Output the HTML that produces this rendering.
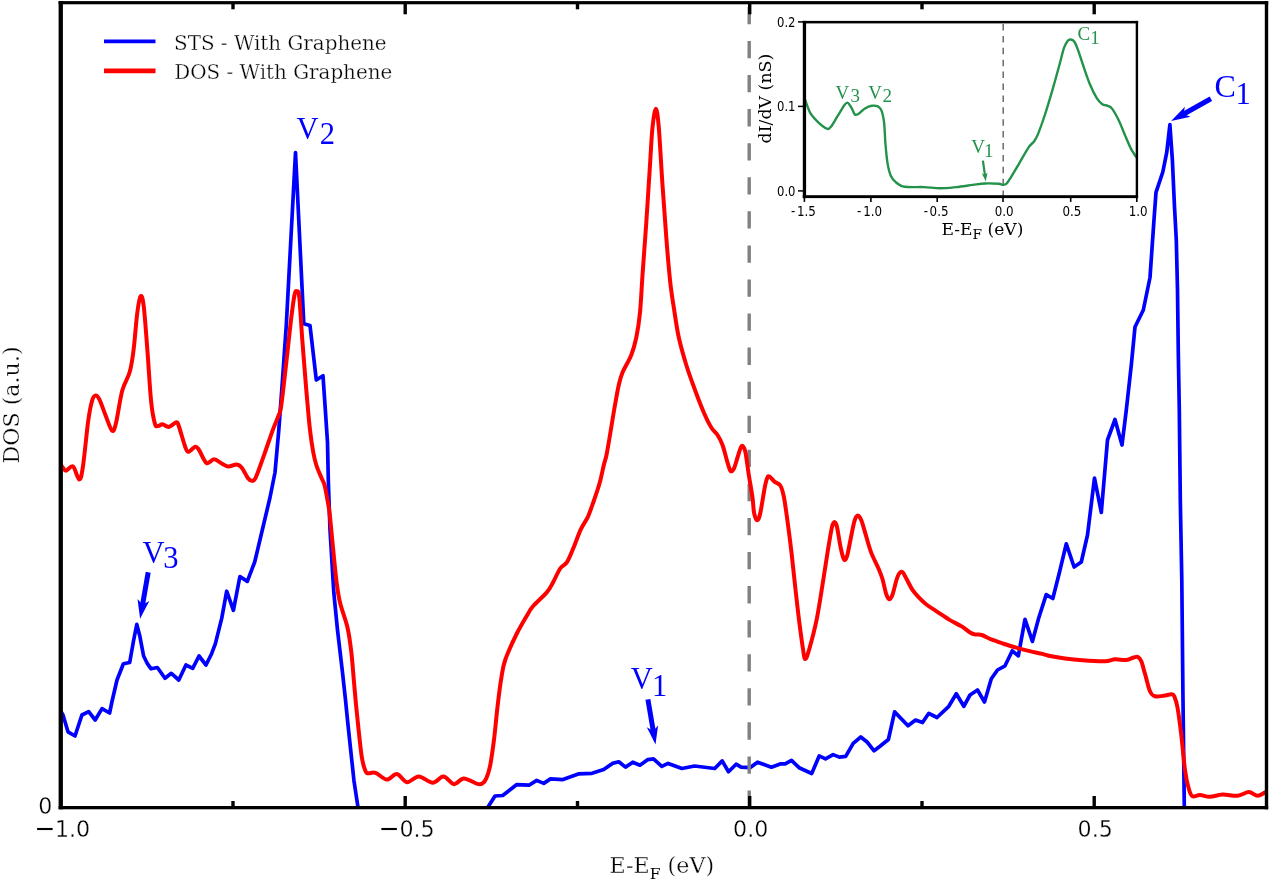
<!DOCTYPE html>
<html lang="en"><head><meta charset="utf-8"><title>DOS vs STS - With Graphene</title>
<style>
html,body{margin:0;padding:0;background:#fff;}
body{width:1270px;height:880px;overflow:hidden;}
svg{display:block;}
.ser{font-family:"DejaVu Serif","Liberation Serif",serif;}
.san{font-family:"DejaVu Sans","Liberation Sans",sans-serif;}
.tex{font-family:"Liberation Serif","DejaVu Serif",serif;}
.cnd{font-family:"DejaVu Sans Condensed","DejaVu Sans","Liberation Sans",sans-serif;}
.thin{stroke:#fff;stroke-width:0.3px;}
</style></head><body>
<svg width="1270" height="880" viewBox="0 0 1270 880">
<rect x="0" y="0" width="1270" height="880" fill="#ffffff"/>
<defs><clipPath id="ax"><rect x="60.7" y="2.7" width="1205.8" height="805.0"/></clipPath>
<clipPath id="in"><rect x="804.4" y="22.3" width="332.5" height="174.2"/></clipPath></defs>
<g clip-path="url(#ax)" fill="none" stroke-linejoin="round" stroke-linecap="butt">
<path d="M60.0,710.0 L63.0,715.0 L68.0,731.8 L75.0,736.0 L81.9,715.0 L88.7,711.6 L95.2,720.0 L102.0,708.6 L109.6,713.0 L112.0,701.5 L117.0,680.0 L123.4,663.8 L129.7,662.5 L133.5,641.0 L136.8,624.4 L139.8,636.0 L143.6,656.0 L147.4,663.7 L151.1,668.8 L157.4,667.5 L165.0,678.3 L171.3,673.3 L178.8,680.0 L185.9,665.0 L192.7,668.3 L199.0,656.0 L206.0,665.0 L211.6,653.7 L215.4,643.6 L221.7,618.4 L226.7,591.2 L233.4,610.3 L239.9,576.5 L247.3,581.4 L254.7,562.0 L262.3,530.0 L270.0,497.5 L275.0,472.5 L278.8,430.0 L282.5,380.0 L286.3,325.0 L295.5,152.5 L303.8,323.8 L310.0,325.5 L316.3,380.0 L323.0,375.8 L325.0,405.0 L327.5,442.5 L328.3,480.0 L330.0,530.0 L333.8,592.5 L337.5,630.0 L342.5,672.5 L345.5,700.0 L347.8,723.0 L354.0,781.0 L358.1,808.0 L361.0,830.0" stroke="#0000ff" stroke-width="3.7"/>
<path d="M481.5,826.0 L487.7,807.5 L495.0,796.0 L502.7,795.5 L516.5,784.7 L529.0,785.2 L536.7,780.4 L543.7,783.4 L550.5,778.9 L563.0,779.6 L578.3,773.9 L592.0,773.3 L603.7,769.6 L612.5,763.4 L618.8,761.8 L625.5,767.1 L632.8,762.2 L639.9,765.2 L647.9,759.6 L653.5,758.9 L661.8,766.4 L668.1,763.4 L681.9,768.5 L694.5,766.0 L714.7,768.5 L722.2,760.9 L728.5,771.7 L736.1,764.2 L741.1,767.2 L750.0,767.7 L757.5,762.2 L771.4,767.2 L780.2,763.9 L785.2,763.9 L791.5,760.4 L799.1,767.7 L811.7,773.5 L819.2,755.9 L825.5,758.9 L833.1,754.6 L839.4,757.1 L845.7,756.4 L853.2,743.3 L860.8,737.0 L867.1,742.0 L874.1,750.8 L880.0,746.3 L888.4,739.5 L894.6,711.9 L908.0,725.8 L915.5,720.0 L922.5,722.5 L928.8,713.3 L937.0,717.5 L948.8,706.3 L956.3,693.8 L963.8,706.3 L970.0,695.0 L977.5,690.0 L984.5,702.0 L991.3,678.8 L997.5,670.0 L1005.0,665.8 L1012.3,650.8 L1018.3,655.8 L1025.0,619.4 L1032.4,641.4 L1038.5,618.8 L1046.2,594.6 L1052.8,598.5 L1059.3,573.0 L1066.3,543.8 L1074.1,567.0 L1081.3,562.0 L1087.5,535.0 L1094.5,478.0 L1101.3,512.5 L1107.5,440.0 L1115.0,419.5 L1122.0,445.0 L1126.3,410.0 L1131.3,365.0 L1135.0,327.0 L1143.3,310.0 L1150.0,277.5 L1153.8,222.5 L1156.0,192.3 L1162.8,172.0 L1166.7,152.7 L1169.9,124.7 L1172.4,160.5 L1174.4,205.0 L1176.3,240.0 L1177.5,290.0 L1178.3,352.5 L1179.3,410.0 L1180.3,500.0 L1181.8,580.0 L1183.0,700.0 L1184.3,807.5 L1184.6,830.0" stroke="#0000ff" stroke-width="3.7"/>
<line x1="749.2" x2="749.2" y1="2.7" y2="808" stroke="#808080" stroke-width="3.4" stroke-dasharray="17.3 16.77" stroke-dashoffset="29.87"/>
<path d="M60.0,465.0 C60.3,465.2 61.0,465.4 62.0,466.4 C63.0,467.3 64.2,470.7 66.0,470.7 C67.8,470.7 70.8,464.9 73.0,466.4 C75.2,467.9 77.6,479.6 79.3,479.5 C81.0,479.4 81.5,475.8 83.0,466.0 C84.5,456.2 86.7,431.8 88.2,421.0 C89.7,410.2 90.8,405.3 92.0,401.0 C93.2,396.7 94.5,395.6 95.7,395.4 C97.0,395.2 97.8,396.2 99.5,399.6 C101.2,403.0 103.7,410.8 105.8,416.0 C107.9,421.2 110.3,429.3 112.0,430.6 C113.7,431.9 114.2,430.2 115.9,423.6 C117.6,417.0 119.9,399.4 122.2,390.8 C124.5,382.2 127.8,378.7 129.7,372.0 C131.6,365.3 132.2,360.4 133.5,350.5 C134.8,340.6 136.1,321.7 137.3,312.7 C138.5,303.7 139.4,297.6 140.5,296.4 C141.6,295.1 142.4,296.2 143.6,305.2 C144.8,314.2 146.2,334.5 147.4,350.5 C148.7,366.5 149.8,388.8 151.1,401.0 C152.3,413.2 153.7,419.4 154.9,423.6 C156.1,427.8 156.9,425.9 158.2,426.0 C159.5,426.1 160.7,424.2 162.5,424.3 C164.3,424.4 166.5,427.2 168.8,426.9 C171.1,426.6 174.6,422.4 176.3,422.3 C178.0,422.2 177.4,422.0 178.8,426.0 C180.2,430.0 183.4,441.9 185.0,446.2 C186.6,450.5 186.7,451.7 188.4,451.8 C190.1,451.9 193.4,447.1 195.2,446.8 C197.0,446.5 197.1,447.3 199.0,450.0 C200.9,452.7 204.0,461.4 206.5,463.0 C209.0,464.6 211.5,459.2 214.0,459.3 C216.5,459.4 219.4,462.2 221.7,463.4 C224.0,464.6 225.5,466.2 228.0,466.4 C230.5,466.6 234.5,464.4 236.8,464.6 C239.1,464.8 239.9,465.4 241.8,467.7 C243.7,470.0 246.3,476.0 248.0,478.2 C249.7,480.4 250.6,480.9 251.9,480.8 C253.2,480.7 253.6,482.2 255.7,477.7 C257.8,473.2 261.6,462.0 264.5,453.8 C267.4,445.6 270.9,435.1 273.3,428.6 C275.7,422.1 277.5,418.9 278.8,415.0 C280.1,411.1 280.1,413.8 281.3,405.0 C282.6,396.2 284.6,377.1 286.3,362.5 C288.0,347.9 289.9,328.8 291.3,317.5 C292.7,306.2 293.6,299.4 294.5,295.0 C295.4,290.6 296.0,290.9 296.8,291.3 C297.6,291.7 298.4,289.0 299.3,297.5 C300.2,306.0 301.3,327.1 302.5,342.5 C303.7,357.9 305.1,375.4 306.3,390.0 C307.6,404.6 308.8,419.6 310.0,430.0 C311.2,440.4 312.2,446.7 313.3,452.5 C314.4,458.3 315.0,460.8 316.3,465.0 C317.6,469.2 319.9,474.2 321.3,477.5 C322.7,480.8 323.6,481.7 324.5,485.0 C325.4,488.3 326.2,492.9 327.0,497.5 C327.8,502.1 328.6,505.0 329.5,512.5 C330.4,520.0 331.4,531.2 332.5,542.5 C333.6,553.8 335.1,570.0 336.3,580.0 C337.6,590.0 338.1,594.6 340.0,602.5 C341.9,610.4 345.6,619.2 347.5,627.5 C349.4,635.8 350.2,642.9 351.3,652.0 C352.4,661.1 353.1,672.3 354.0,682.0 C354.9,691.7 355.3,698.1 356.6,710.4 C357.9,722.7 360.1,745.6 361.6,755.7 C363.1,765.8 364.3,767.9 365.4,770.8 C366.5,773.7 366.7,773.0 368.4,773.3 C370.1,773.6 372.4,771.8 375.5,772.8 C378.6,773.8 383.2,779.4 386.8,779.6 C390.4,779.8 393.5,773.5 396.9,773.9 C400.3,774.3 403.4,781.8 407.0,782.2 C410.6,782.6 414.5,776.3 418.8,776.4 C423.1,776.5 428.6,782.7 432.7,782.7 C436.8,782.7 439.9,776.4 443.5,776.6 C447.1,776.9 450.6,783.9 454.0,784.2 C457.4,784.5 459.8,778.5 463.7,778.4 C467.6,778.3 474.4,783.1 477.5,783.9 C480.6,784.7 481.0,784.3 482.5,783.4 C484.0,782.5 485.0,781.3 486.3,778.4 C487.6,775.5 488.8,772.1 490.1,765.8 C491.4,759.5 492.6,750.7 493.9,740.6 C495.2,730.5 496.4,715.8 497.7,705.3 C498.9,694.8 500.1,685.1 501.4,677.6 C502.6,670.1 502.7,667.3 505.2,660.0 C507.7,652.7 512.8,641.7 516.6,634.0 C520.4,626.3 525.3,618.4 528.0,613.8 C530.7,609.2 529.9,609.8 533.0,606.2 C536.1,602.6 543.4,596.4 546.8,592.4 C550.1,588.4 550.9,586.3 553.1,582.3 C555.3,578.3 557.9,571.9 560.2,568.5 C562.5,565.1 564.8,565.6 567.0,562.2 C569.2,558.8 571.0,553.8 573.3,548.3 C575.6,542.8 578.4,534.6 580.8,529.4 C583.2,524.1 585.8,521.4 587.9,516.8 C590.0,512.1 591.6,507.2 593.6,501.5 C595.6,495.8 598.0,488.9 599.7,482.8 C601.4,476.7 602.7,469.6 603.8,465.0 C604.9,460.4 605.5,460.0 606.5,455.0 C607.5,450.0 608.6,443.3 610.0,435.0 C611.4,426.7 613.5,413.3 615.0,405.0 C616.5,396.7 617.5,390.4 618.8,385.0 C620.0,379.6 620.4,377.5 622.5,372.5 C624.6,367.5 629.0,360.8 631.3,355.0 C633.6,349.2 634.8,344.6 636.3,337.5 C637.8,330.4 639.0,322.9 640.0,312.5 C641.0,302.1 641.5,290.0 642.5,275.0 C643.5,260.0 645.0,240.8 646.3,222.5 C647.5,204.2 649.0,180.8 650.0,165.0 C651.0,149.2 651.5,136.9 652.5,127.5 C653.5,118.1 654.8,108.8 655.8,108.8 C656.8,108.8 657.7,114.8 658.8,127.5 C659.9,140.2 661.2,166.7 662.5,185.0 C663.8,203.3 665.0,221.7 666.3,237.5 C667.5,253.3 668.8,268.3 670.0,280.0 C671.2,291.7 672.3,297.9 673.8,307.5 C675.3,317.1 676.7,327.9 678.8,337.5 C680.9,347.1 683.6,356.2 686.3,365.0 C689.0,373.8 692.1,382.1 695.0,390.0 C697.9,397.9 701.1,406.2 703.8,412.5 C706.5,418.8 709.0,423.8 711.3,427.5 C713.6,431.2 715.6,432.1 717.5,435.0 C719.4,437.9 720.8,440.4 722.5,445.0 C724.2,449.6 726.2,458.2 727.5,462.5 C728.8,466.8 729.5,469.8 730.5,470.8 C731.5,471.9 732.6,471.0 733.8,468.8 C735.0,466.6 736.3,461.1 737.5,457.5 C738.7,453.9 739.9,449.4 740.8,447.5 C741.7,445.6 742.2,445.5 743.0,446.3 C743.8,447.1 744.5,447.7 745.5,452.5 C746.5,457.3 747.6,467.5 748.8,475.0 C750.0,482.5 751.6,491.2 752.5,497.5 C753.4,503.8 753.3,509.2 754.1,513.0 C754.9,516.8 756.2,520.2 757.2,520.3 C758.2,520.4 758.9,519.1 760.2,513.5 C761.5,507.9 763.7,492.6 764.9,486.6 C766.1,480.7 766.5,479.5 767.3,477.8 C768.1,476.1 768.3,475.9 769.5,476.5 C770.7,477.1 772.6,480.1 774.4,481.6 C776.2,483.1 778.7,483.0 780.3,485.5 C781.9,488.0 782.6,490.7 783.8,496.5 C785.0,502.3 786.1,511.0 787.4,520.5 C788.7,530.0 790.3,542.0 791.6,553.4 C792.9,564.8 794.1,577.3 795.4,588.6 C796.7,599.9 797.9,611.3 799.2,621.4 C800.5,631.5 802.0,642.7 803.0,649.0 C804.0,655.3 804.2,659.0 805.3,659.0 C806.3,659.0 807.4,655.7 809.3,649.0 C811.2,642.3 814.5,630.1 816.8,618.8 C819.1,607.5 821.2,592.8 823.1,581.0 C825.0,569.2 826.7,557.3 828.2,548.3 C829.7,539.3 831.0,531.3 832.0,526.9 C833.0,522.5 833.7,521.9 834.5,521.9 C835.3,521.9 836.0,522.5 837.0,526.9 C838.0,531.3 839.6,542.8 840.8,548.3 C842.0,553.8 843.0,558.3 844.0,559.6 C845.0,560.9 846.0,559.5 847.1,555.9 C848.2,552.3 849.5,544.1 850.8,538.2 C852.0,532.3 853.4,524.4 854.6,520.6 C855.8,516.8 856.8,515.6 857.9,515.6 C859.0,515.6 860.0,517.2 861.4,520.6 C862.8,524.0 864.4,530.5 866.0,535.7 C867.6,541.0 868.9,546.6 871.0,552.1 C873.1,557.6 876.6,564.1 878.5,568.5 C880.4,572.9 881.0,574.3 882.3,578.5 C883.6,582.7 885.0,590.2 886.1,593.7 C887.2,597.2 888.1,599.0 889.1,599.2 C890.1,599.4 891.2,597.9 892.4,594.9 C893.6,591.9 895.1,584.6 896.2,581.0 C897.3,577.4 898.2,575.0 899.2,573.5 C900.2,572.0 901.3,571.4 902.5,572.2 C903.7,573.0 904.6,575.5 906.3,578.5 C908.0,581.5 910.4,586.8 912.5,589.9 C914.6,593.0 916.5,595.0 918.8,597.4 C921.1,599.8 923.4,602.2 926.4,604.5 C929.4,606.8 932.7,608.8 936.5,611.3 C940.3,613.8 944.9,617.1 949.1,619.6 C953.3,622.1 958.1,624.2 961.7,626.4 C965.3,628.6 968.2,631.4 970.5,632.7 C972.8,634.1 973.6,634.1 975.5,634.5 C977.4,634.9 979.1,634.1 981.8,635.0 C984.5,635.9 988.1,638.2 991.9,639.7 C995.7,641.2 1000.3,642.6 1004.5,644.0 C1008.7,645.4 1012.9,646.6 1017.1,647.8 C1021.3,649.0 1025.5,650.1 1029.7,651.1 C1033.9,652.1 1038.9,653.1 1042.3,653.9 C1045.7,654.7 1046.2,655.2 1050.0,656.0 C1053.8,656.8 1059.6,657.8 1065.0,658.5 C1070.4,659.2 1075.8,659.8 1082.5,660.3 C1089.2,660.8 1099.6,661.5 1105.0,661.3 C1110.4,661.1 1111.5,659.5 1115.0,659.3 C1118.5,659.1 1123.2,660.3 1126.3,660.0 C1129.4,659.7 1131.8,658.0 1133.8,657.5 C1135.8,657.0 1136.8,656.4 1138.0,657.0 C1139.2,657.6 1140.1,658.5 1141.3,661.3 C1142.5,664.1 1143.5,668.8 1145.0,673.8 C1146.5,678.8 1148.3,687.5 1150.0,691.3 C1151.7,695.0 1152.5,695.6 1155.0,696.3 C1157.5,697.0 1162.3,695.8 1165.0,695.5 C1167.7,695.2 1169.8,694.2 1171.3,694.3 C1172.8,694.4 1173.3,694.1 1174.3,696.3 C1175.3,698.5 1176.3,701.0 1177.5,707.5 C1178.7,714.0 1180.0,724.6 1181.3,735.0 C1182.5,745.4 1183.8,761.0 1185.0,770.0 C1186.2,779.0 1187.5,784.4 1188.8,788.8 C1190.0,793.2 1190.6,795.3 1192.5,796.3 C1194.4,797.3 1197.1,794.9 1200.0,795.0 C1202.9,795.1 1206.2,796.9 1210.0,796.8 C1213.8,796.7 1217.9,794.7 1222.5,794.5 C1227.1,794.3 1233.1,796.2 1237.5,795.8 C1241.9,795.4 1245.5,792.0 1248.8,792.0 C1252.1,792.0 1254.8,795.7 1257.5,795.8 C1260.2,795.9 1263.2,793.1 1265.0,792.5 C1266.8,791.9 1267.5,792.1 1268.0,792.0" stroke="#ff0000" stroke-width="4.0"/>
</g>
<g fill="#000"><rect x="58.6" y="1.1" width="4.3" height="808.2"/><rect x="1264.8" y="1.1" width="3.4" height="808.2"/><rect x="58.6" y="1.1" width="1209.6" height="3.2"/><rect x="58.6" y="806" width="1209.6" height="3.3"/></g>
<line x1="233.0" x2="233.0" y1="806.5" y2="801.0" stroke="#000" stroke-width="3.4"/>
<line x1="233.0" x2="233.0" y1="4.0" y2="9.3" stroke="#000" stroke-width="3.4"/>
<line x1="405.2" x2="405.2" y1="806.5" y2="796.0" stroke="#000" stroke-width="3.4"/>
<line x1="405.2" x2="405.2" y1="4.0" y2="14.3" stroke="#000" stroke-width="3.4"/>
<line x1="577.5" x2="577.5" y1="806.5" y2="801.0" stroke="#000" stroke-width="3.4"/>
<line x1="577.5" x2="577.5" y1="4.0" y2="9.3" stroke="#000" stroke-width="3.4"/>
<line x1="749.7" x2="749.7" y1="806.5" y2="796.0" stroke="#000" stroke-width="3.4"/>
<line x1="749.7" x2="749.7" y1="4.0" y2="14.3" stroke="#000" stroke-width="3.4"/>
<line x1="922.0" x2="922.0" y1="806.5" y2="801.0" stroke="#000" stroke-width="3.4"/>
<line x1="922.0" x2="922.0" y1="4.0" y2="9.3" stroke="#000" stroke-width="3.4"/>
<line x1="1094.2" x2="1094.2" y1="806.5" y2="796.0" stroke="#000" stroke-width="3.4"/>
<line x1="1094.2" x2="1094.2" y1="4.0" y2="14.3" stroke="#000" stroke-width="3.4"/>
<g class="san thin" font-size="22.2" fill="#000">
<text x="54.9" y="837">1.0</text>
<text x="399.4" y="837">0.5</text>
<text x="733.1" y="837">0.0</text>
<text x="1077.6" y="837">0.5</text>
<text x="38.2" y="813.6">0</text>
</g>
<text class="san" font-size="22.2" transform="translate(34.3,837) scale(1.12,1.15)">−</text>
<text class="san" font-size="22.2" transform="translate(378.6,837) scale(1.12,1.15)">−</text>
<text class="ser thin" font-size="22.2" x="661.8" y="872.7" text-anchor="middle">E-E<tspan font-size="15.5" dy="5.8" style="stroke:none">F</tspan><tspan dy="-5.8"> (eV)</tspan></text>
<text class="ser thin" font-size="22.2" transform="translate(18.6,405) rotate(-90)" text-anchor="middle">DOS (a.u.)</text>
<line x1="104" x2="155.5" y1="41.4" y2="41.4" stroke="#0000ff" stroke-width="3.7"/>
<line x1="104" x2="155.5" y1="70.8" y2="70.8" stroke="#ff0000" stroke-width="4.8"/>
<text class="ser thin" font-size="19.9" x="174" y="49.5">STS - With Graphene</text>
<text class="ser thin" font-size="19.9" x="174.3" y="78.6">DOS - With Graphene</text>
<text class="tex" font-size="30.5" fill="#0000ff"><tspan x="296.5" y="138.6">V</tspan><tspan x="319.8" y="143.9">2</tspan></text>
<text class="tex" font-size="30.5" fill="#0000ff"><tspan x="142.4" y="562.9">V</tspan><tspan x="163.2" y="568.3">3</tspan></text>
<text class="tex" font-size="30.5" fill="#0000ff"><tspan x="630.8" y="688.8">V</tspan><tspan x="652.0" y="695.8">1</tspan></text>
<text class="tex" font-size="32.0" fill="#0000ff"><tspan x="1214.6" y="96.9">C</tspan></text>
<text class="tex" font-size="30.5" fill="#0000ff"><tspan x="1235.6" y="103.6">1</tspan></text>
<line x1="148.2" y1="572.3" x2="142.1" y2="607.5" stroke="#0000ff" stroke-width="5.0"/>
<polygon points="140.1,618.7 137.5,599.0 142.6,604.7 149.3,601.0" fill="#0000ff"/>
<line x1="647.9" y1="699.3" x2="653.7" y2="733.7" stroke="#0000ff" stroke-width="5.0"/>
<polygon points="655.5,744.6 646.8,727.3 653.2,730.9 658.1,725.4" fill="#0000ff"/>
<line x1="1210.9" y1="98.8" x2="1181.0" y2="115.5" stroke="#0000ff" stroke-width="5.0"/>
<polygon points="1171.1,121.1 1184.9,106.8 1183.5,114.1 1190.5,116.8" fill="#0000ff"/>
<rect x="804.4" y="22.3" width="332.5" height="174.2" fill="#fff"/>
<g clip-path="url(#in)" fill="none">
<line x1="1003.2" x2="1003.2" y1="24" y2="197" stroke="#6a6a6a" stroke-width="1.5" stroke-dasharray="6.5 5.4"/>
<path d="M805.0,99.5 C805.9,101.8 808.1,109.3 810.4,113.2 C812.7,117.1 815.9,120.1 818.6,122.7 C821.3,125.3 824.8,128.0 826.8,128.7 C828.8,129.4 829.1,128.9 830.9,126.8 C832.7,124.7 835.4,119.5 837.7,115.9 C840.0,112.3 842.8,107.2 844.5,105.0 C846.2,102.8 846.6,102.3 847.8,102.8 C848.9,103.2 850.2,105.8 851.4,107.7 C852.6,109.7 853.8,113.5 854.9,114.5 C856.0,115.5 856.5,115.0 858.2,114.0 C859.9,113.0 862.7,109.9 865.0,108.5 C867.3,107.1 869.7,106.1 871.8,105.8 C873.9,105.5 876.2,105.6 877.8,106.4 C879.4,107.2 880.3,107.7 881.4,110.4 C882.5,113.1 883.4,117.0 884.1,122.7 C884.8,128.4 884.9,137.7 885.5,144.5 C886.1,151.3 886.7,158.4 887.6,163.6 C888.5,168.8 889.4,172.7 890.9,175.9 C892.4,179.1 894.1,180.9 896.4,182.7 C898.7,184.5 900.0,186.1 904.5,186.8 C909.0,187.5 917.7,186.9 923.6,187.1 C929.5,187.3 934.5,188.2 940.0,188.2 C945.5,188.2 950.9,187.6 956.4,187.1 C961.9,186.6 967.9,185.5 972.7,184.9 C977.5,184.3 980.7,183.7 985.0,183.5 C989.3,183.3 995.6,183.6 998.6,183.8 C1001.6,184.0 1001.9,185.0 1003.3,184.9 C1004.7,184.8 1005.5,184.6 1006.8,183.3 C1008.1,182.0 1008.8,180.6 1010.9,177.3 C1013.0,174.0 1016.2,168.6 1019.1,163.6 C1022.0,158.6 1026.1,151.0 1028.6,147.3 C1031.1,143.6 1032.5,143.6 1034.1,141.3 C1035.7,139.0 1036.4,138.1 1038.2,133.6 C1040.0,129.1 1042.5,122.2 1045.0,114.5 C1047.5,106.8 1050.7,95.9 1053.2,87.3 C1055.7,78.7 1058.2,69.3 1060.0,62.7 C1061.8,56.1 1062.8,51.3 1064.1,47.7 C1065.4,44.1 1066.5,42.3 1067.6,40.9 C1068.7,39.5 1069.8,39.4 1070.9,39.5 C1072.0,39.6 1073.1,39.9 1074.2,41.5 C1075.3,43.1 1076.2,45.1 1077.7,49.1 C1079.2,53.1 1081.2,59.6 1083.2,65.5 C1085.2,71.4 1087.7,79.0 1090.0,84.5 C1092.3,90.0 1094.8,94.9 1096.8,98.2 C1098.8,101.5 1100.5,102.9 1102.3,104.2 C1104.1,105.5 1106.0,105.0 1107.7,105.8 C1109.4,106.6 1110.6,106.7 1112.4,109.1 C1114.2,111.5 1116.4,115.5 1118.6,120.0 C1120.8,124.5 1123.5,131.6 1125.5,136.4 C1127.5,141.2 1129.1,145.1 1130.9,148.6 C1132.7,152.1 1135.6,156.0 1136.5,157.5" stroke="#23924a" stroke-width="2.4" stroke-linejoin="round"/>
</g>
<g fill="#000"><rect x="802.8" y="20.9" width="3.3" height="177.2"/><rect x="1135.7" y="20.9" width="2.4" height="177.2"/><rect x="802.8" y="20.9" width="335.3" height="2.5"/><rect x="802.8" y="195.2" width="335.3" height="2.9"/></g>
<line x1="804.4" x2="804.4" y1="197" y2="201.9" stroke="#000" stroke-width="1.6"/>
<line x1="870.9" x2="870.9" y1="197" y2="201.9" stroke="#000" stroke-width="1.6"/>
<line x1="937.2" x2="937.2" y1="197" y2="201.9" stroke="#000" stroke-width="1.6"/>
<line x1="1003.0" x2="1003.0" y1="197" y2="201.9" stroke="#000" stroke-width="1.6"/>
<line x1="1070.7" x2="1070.7" y1="197" y2="201.9" stroke="#000" stroke-width="1.6"/>
<line x1="1136.8" x2="1136.8" y1="197" y2="201.9" stroke="#000" stroke-width="1.6"/>
<line x1="798" x2="803.5" y1="21.9" y2="21.9" stroke="#000" stroke-width="1.5"/>
<line x1="798" x2="803.5" y1="106.4" y2="106.4" stroke="#000" stroke-width="1.5"/>
<line x1="798" x2="803.5" y1="190.9" y2="190.9" stroke="#000" stroke-width="1.5"/>
<text class="cnd" font-size="14.2" transform="translate(797.0,215.8) scale(0.93,1)">1.5</text>
<text class="cnd" font-size="14.2" transform="translate(863.2,215.8) scale(0.93,1)">1.0</text>
<text class="cnd" font-size="14.2" transform="translate(929.6,215.8) scale(0.93,1)">0.5</text>
<text class="cnd" font-size="14.2" transform="translate(994.7,215.8) scale(0.93,1)">0.0</text>
<text class="cnd" font-size="14.2" transform="translate(1062.5,215.8) scale(0.93,1)">0.5</text>
<text class="cnd" font-size="14.2" transform="translate(1128.8,215.8) scale(0.93,1)">1.0</text>
<text class="cnd" font-size="14.2" transform="translate(790.9,216.3) scale(0.93,1)">-</text>
<text class="cnd" font-size="14.2" transform="translate(857.1,216.3) scale(0.93,1)">-</text>
<text class="cnd" font-size="14.2" transform="translate(923.8,216.3) scale(0.93,1)">-</text>
<text class="cnd" font-size="14.2" transform="translate(777.0,26.5) scale(0.91,1)">0.2</text>
<text class="cnd" font-size="14.2" transform="translate(777.0,111.0) scale(0.91,1)">0.1</text>
<text class="cnd" font-size="14.2" transform="translate(777.0,195.5) scale(0.91,1)">0.0</text>
<text class="ser" font-size="17.1" x="941.5" y="235.2">E-E<tspan font-size="13.7" dy="4.2">F</tspan><tspan dy="-4.2"> (eV)</tspan></text>
<text class="ser" font-size="17.4" transform="translate(771.4,98.6) rotate(-90)" text-anchor="middle">dI/dV (nS)</text>
<text class="tex" font-size="19.0" fill="#23924a"><tspan x="835.5" y="98.6">V</tspan><tspan x="850.4" y="102.1">3</tspan></text>
<text class="tex" font-size="19.0" fill="#23924a"><tspan x="868.3" y="98.6">V</tspan><tspan x="882.4" y="102.0">2</tspan></text>
<text class="tex" font-size="19.0" fill="#23924a"><tspan x="971.3" y="152.8">V</tspan><tspan x="984.0" y="156.8">1</tspan></text>
<text class="tex" font-size="19.0" fill="#23924a"><tspan x="1077.5" y="39.6">C</tspan><tspan x="1090.3" y="43.5">1</tspan></text>
<line x1="982.9" y1="160.6" x2="985.1" y2="176.1" stroke="#23924a" stroke-width="2.2"/>
<polygon points="985.8,181.2 981.7,173.2 984.9,174.9 987.5,172.4" fill="#23924a"/>
</svg></body></html>
